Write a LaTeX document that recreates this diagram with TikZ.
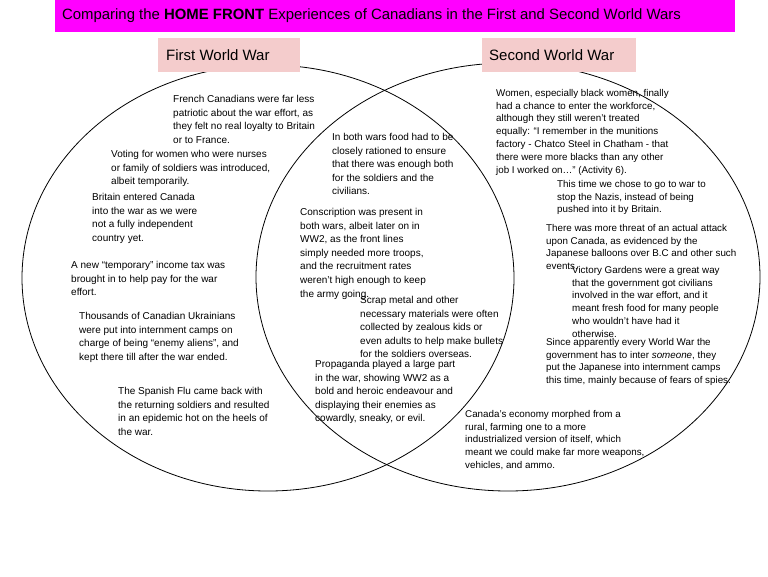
\documentclass[tikz,border=0pt]{standalone}
\usepackage{fontspec}
\setmainfont{Liberation Sans}
\definecolor{banner}{HTML}{FF00FF}
\definecolor{pinkbox}{HTML}{F4CCCC}
\begin{document}
\begin{tikzpicture}[x=1pt,y=-1pt,
  txt/.style={anchor=north west,inner sep=0pt,align=left,font=\fontsize{10}{13.6}\selectfont},
  lbl/.style={fill=pinkbox,inner sep=0pt,minimum height=34pt},
  lbltxt/.style={anchor=west,inner sep=0pt,font=\fontsize{15}{17}\selectfont}]
\useasboundingbox (0,0) rectangle (768,576);
\fill[white] (0,0) rectangle (768,576);
\node[fill=banner,anchor=north west,minimum width=680pt,minimum height=32pt,inner sep=0pt] (ban) at (55,0) {};
\node[anchor=west,inner sep=0pt,font=\fontsize{14.9}{17}\selectfont] (title) at (62,16) {Comparing the \textbf{HOME FRONT} Experiences of Canadians in the First and Second World Wars};
\draw[line width=0.8pt] (268,278) ellipse [x radius=246, y radius=213];
\draw[line width=0.8pt] (508,277) ellipse [x radius=252, y radius=214];
\node[lbl,minimum width=142pt] (l1) at (229,55) {};
\node[lbltxt] (l1t) at (166,55) {First World War};
\node[lbl,minimum width=154pt] (l2) at (559,55) {};
\node[lbltxt] (l2t) at (489,55) {Second World War};
\node[txt] (a1) at (173,95) {French Canadians were far less\\patriotic about the war effort, as\\they felt no real loyalty to Britain\\or to France.};
\node[txt] (a2) at (111,150) {Voting for women who were nurses\\or family of soldiers was introduced,\\albeit temporarily.};
\node[txt] (a3) at (92,193) {Britain entered Canada\\into the war as we were\\not a fully independent\\country yet.};
\node[txt] (a4) at (71,261) {A new ``temporary'' income tax was\\brought in to help pay for the war\\effort.};
\node[txt] (a5) at (79,312) {Thousands of Canadian Ukrainians\\were put into internment camps on\\charge of being ``enemy aliens'', and\\kept there till after the war ended.};
\node[txt] (a6) at (118,387) {The Spanish Flu came back with\\the returning soldiers and resulted\\in an epidemic hot on the heels of\\the war.};
\node[txt] (b1) at (332,133) {In both wars food had to be\\closely rationed to ensure\\that there was enough both\\for the soldiers and the\\civilians.};
\node[txt] (b2) at (300,208) {Conscription was present in\\both wars, albeit later on in\\WW2, as the front lines\\simply needed more troops,\\and the recruitment rates\\weren't high enough to keep\\the army going.};
\node[txt] (b3) at (360,296) {Scrap metal and other\\necessary materials were often\\collected by zealous kids or\\even adults to help make bullets\\for the soldiers overseas.};
\node[txt] (b4) at (315,360) {Propaganda played a large part\\in the war, showing WW2 as a\\bold and heroic endeavour and\\displaying their enemies as\\cowardly, sneaky, or evil.};
\begin{scope}[txt/.append style={font=\fontsize{9.8}{12.8}\selectfont}]
\node[txt] (c1) at (496,89) {Women, especially black women, finally\\had a chance to enter the workforce,\\although they still weren't treated\\equally: ``I remember in the munitions\\factory - Chatco Steel in Chatham - that\\there were more blacks than any other\\job I worked on\ldots'' (Activity 6).};
\node[txt] (c2) at (557,180) {This time we chose to go to war to\\stop the Nazis, instead of being\\pushed into it by Britain.};
\node[txt] (c3) at (546,224) {There was more threat of an actual attack\\upon Canada, as evidenced by the\\Japanese balloons over B.C and other such\\events.};
\node[txt] (c4) at (572,266) {Victory Gardens were a great way\\that the government got civilians\\involved in the war effort, and it\\meant fresh food for many people\\who wouldn't have had it\\otherwise.};
\node[txt] (c5) at (546,338) {Since apparently every World War the\\government has to inter \textit{someone}, they\\put the Japanese into internment camps\\this time, mainly because of fears of spies.};
\node[txt] (c6) at (465,410) {Canada's economy morphed from a\\rural, farming one to a more\\industrialized version of itself, which\\meant we could make far more weapons,\\vehicles, and ammo.};
\end{scope}
\end{tikzpicture}
\end{document}
